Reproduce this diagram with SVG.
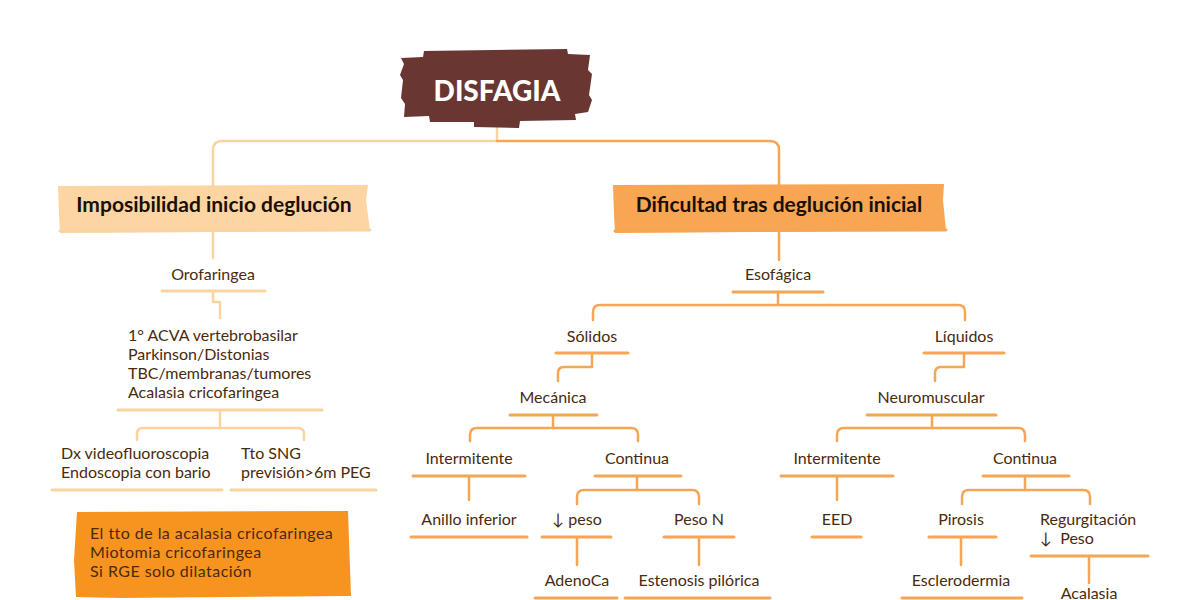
<svg xmlns="http://www.w3.org/2000/svg" width="1200" height="600" viewBox="0 0 1200 600">
<style>
  .t{font-family:"Lato","Liberation Sans",sans-serif;font-size:16px;fill:#4a2a0e;}
  .c{text-anchor:middle;}
  .n{letter-spacing:0.45px;}
  .h{font-family:"Lato","Liberation Sans",sans-serif;font-size:21px;font-weight:bold;fill:#1a1008;text-anchor:middle;}
  .ti{font-family:"Lato","Liberation Sans",sans-serif;font-size:28px;font-weight:900;fill:#ffffff;text-anchor:middle;}
  .ul{stroke:#f5a655;stroke-width:3;stroke-linecap:round;fill:none;}
  .ull{stroke:#fbd3a0;stroke-width:3;stroke-linecap:round;fill:none;}
  .cn{stroke:#f5a655;stroke-width:2.5;fill:none;stroke-linecap:round;stroke-linejoin:round;}
  .cnl{stroke:#fbd3a0;stroke-width:2.5;fill:none;stroke-linecap:round;stroke-linejoin:round;}
</style>

<g id="connectors">
  <path class="cnl" d="M497,128 V141 H222 Q213,141 213,150 V188"/>
  <path class="cn" d="M497,141 H770 Q779,141 779,150 V188"/>
  <path class="cnl" d="M213,232 V258"/>
  <path class="cnl" d="M213,291 V302 H220 V318"/>
  <path class="cnl" d="M220,410 V428"/>
  <path class="cnl" d="M137,440 V434 Q137,428 143,428 H298 Q304,428 304,434 V440"/>
  <path class="cn" d="M779,232 V260"/>
  <path class="cn" d="M778,292 V305"/>
  <path class="cn" d="M593,320 V312 Q593,305 600,305 H958 Q965,305 965,312 V320"/>
  <path class="cn" d="M592,353 V367 H564 Q558,367 558,373 V381"/>
  <path class="cn" d="M553,415 V428"/>
  <path class="cn" d="M470,441 V435 Q470,428 477,428 H631 Q638,428 638,435 V441"/>
  <path class="cn" d="M469,476 V500"/>
  <path class="cn" d="M637,476 V490"/>
  <path class="cn" d="M577,504 V497 Q577,490 584,490 H692 Q699,490 699,497 V504"/>
  <path class="cn" d="M577,537 V565"/>
  <path class="cn" d="M699,537 V565"/>
  <path class="cn" d="M964,353 V367 H941 Q935,367 935,373 V381"/>
  <path class="cn" d="M932,415 V428"/>
  <path class="cn" d="M837,441 V435 Q837,428 844,428 H1018 Q1025,428 1025,435 V441"/>
  <path class="cn" d="M837,476 V500"/>
  <path class="cn" d="M1025,476 V490"/>
  <path class="cn" d="M962,504 V497 Q962,490 969,490 H1083 Q1090,490 1090,497 V504"/>
  <path class="cn" d="M961,537 V565"/>
  <path class="cn" d="M1089,556 V583"/>
</g>

<g id="n-disfagia">
  <polygon fill="#6a3632" points="424,51 567,49 568,54 590,55 588,70 592,74 589,95 592,100 588,112 575,114 576,120 520,121 519,128 474,127 474,122 430,122 429,116 404,117 405,104 401,98 403,80 400,75 404,64 401,58 423,57"/>
  <text class="ti" x="497" y="101">DISFAGIA</text>
</g>

<g id="n-imposibilidad">
  <polygon fill="#fdd5a2" points="58,186 368,185 366,200 370,231 60,233 59,215"/>
  <line class="ull" x1="60" y1="231" x2="370" y2="230"/>
  <text class="h" x="214" y="212">Imposibilidad inicio deglución</text>
</g>

<g id="n-dificultad">
  <polygon fill="#f8a554" points="613,185 944,184 943,200 946,230 615,233 614,215"/>
  <line class="ul" x1="615" y1="231" x2="946" y2="230"/>
  <text class="h" x="779" y="212">Dificultad tras deglución inicial</text>
</g>

<g id="n-orofaringea">
  <text class="t c" x="213" y="280">Orofaringea</text>
  <line class="ull" x1="162" y1="291" x2="265" y2="291"/>
</g>

<g id="n-causas">
  <text class="t" x="128" y="341">1° ACVA vertebrobasilar</text>
  <text class="t" x="128" y="360">Parkinson/Distonias</text>
  <text class="t" x="128" y="379">TBC/membranas/tumores</text>
  <text class="t" x="128" y="398">Acalasia cricofaringea</text>
  <line class="ull" x1="118" y1="410" x2="322" y2="410"/>
</g>

<g id="n-dx">
  <text class="t" x="61" y="459">Dx videofluoroscopia</text>
  <text class="t" x="61" y="478">Endoscopia con bario</text>
  <line class="ull" x1="52" y1="490" x2="222" y2="490"/>
</g>

<g id="n-tto">
  <text class="t" x="241" y="459">Tto SNG</text>
  <text class="t" x="241" y="478">previsión&gt;6m PEG</text>
  <line class="ull" x1="231" y1="490" x2="376" y2="490"/>
</g>

<g id="n-nota">
  <polygon fill="#f7941f" points="77,512 348,511 349,540 351,596 120,598 76,597 74,560"/>
  <text class="t n" x="90" y="539">El tto de la acalasia cricofaringea</text>
  <text class="t n" x="90" y="558">Miotomia cricofaringea</text>
  <text class="t n" x="90" y="577">Si RGE solo dilatación</text>
</g>

<g id="n-esofagica">
  <text class="t c" x="778" y="280">Esofágica</text>
  <line class="ul" x1="733" y1="292" x2="823" y2="292"/>
</g>

<g id="n-solidos">
  <text class="t c" x="592" y="342">Sólidos</text>
  <line class="ul" x1="556" y1="353" x2="628" y2="353"/>
</g>

<g id="n-mecanica">
  <text class="t c" x="553" y="403">Mecánica</text>
  <line class="ul" x1="510" y1="415" x2="597" y2="415"/>
</g>

<g id="n-intermitente1">
  <text class="t c" x="469" y="464">Intermitente</text>
  <line class="ul" x1="413" y1="476" x2="525" y2="476"/>
</g>

<g id="n-anillo">
  <text class="t c" x="469" y="525">Anillo inferior</text>
  <line class="ul" x1="411" y1="537" x2="527" y2="537"/>
</g>

<g id="n-continua1">
  <text class="t c" x="637" y="464">Continua</text>
  <line class="ul" x1="595" y1="476" x2="681" y2="476"/>
</g>

<g id="n-bajopeso">
  <text class="t c" x="577" y="525">↓ peso</text>
  <line class="ul" x1="542" y1="537" x2="611" y2="537"/>
</g>

<g id="n-adenoca">
  <text class="t c" x="577" y="586">AdenoCa</text>
  <line class="ul" x1="535" y1="598" x2="617" y2="598"/>
</g>

<g id="n-peson">
  <text class="t c" x="699" y="525">Peso N</text>
  <line class="ul" x1="664" y1="537" x2="734" y2="537"/>
</g>

<g id="n-estenosis">
  <text class="t c" x="699" y="586">Estenosis pilórica</text>
  <line class="ul" x1="625" y1="598" x2="770" y2="598"/>
</g>

<g id="n-liquidos">
  <text class="t c" x="964" y="342">Líquidos</text>
  <line class="ul" x1="924" y1="353" x2="1004" y2="353"/>
</g>

<g id="n-neuromuscular">
  <text class="t c" x="931" y="403">Neuromuscular</text>
  <line class="ul" x1="867" y1="415" x2="996" y2="415"/>
</g>

<g id="n-intermitente2">
  <text class="t c" x="837" y="464">Intermitente</text>
  <line class="ul" x1="781" y1="476" x2="893" y2="476"/>
</g>

<g id="n-eed">
  <text class="t c" x="837" y="525">EED</text>
  <line class="ul" x1="812" y1="537" x2="861" y2="537"/>
</g>

<g id="n-continua2">
  <text class="t c" x="1025" y="464">Continua</text>
  <line class="ul" x1="983" y1="476" x2="1069" y2="476"/>
</g>

<g id="n-pirosis">
  <text class="t c" x="961" y="525">Pirosis</text>
  <line class="ul" x1="929" y1="537" x2="996" y2="537"/>
</g>

<g id="n-esclerodermia">
  <text class="t c" x="961" y="586">Esclerodermia</text>
  <line class="ul" x1="902" y1="598" x2="1022" y2="598"/>
</g>

<g id="n-regurgitacion">
  <text class="t" x="1040" y="525">Regurgitación</text>
  <text class="t" x="1040" y="544">↓&#160; Peso</text>
  <line class="ul" x1="1031" y1="556" x2="1148" y2="556"/>
</g>

<g id="n-acalasia">
  <text class="t c" x="1089" y="599">Acalasia</text>
</g>
</svg>
